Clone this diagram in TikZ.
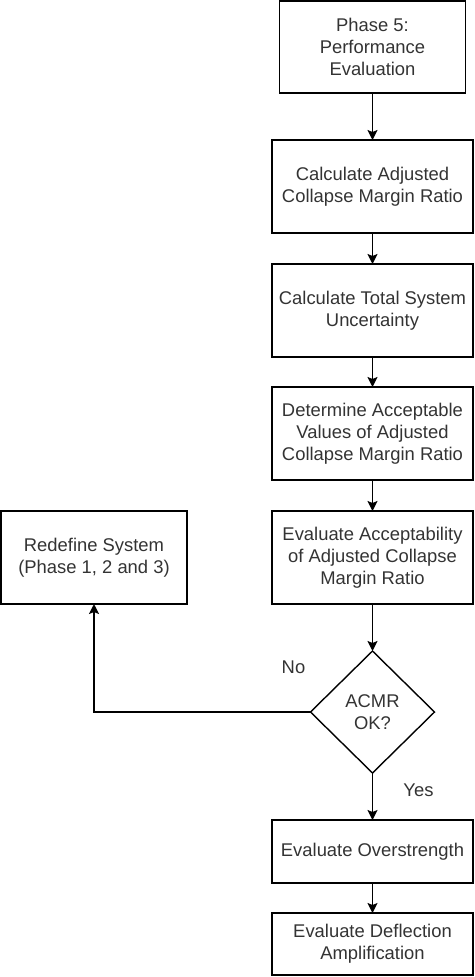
\documentclass[tikz,border=0pt]{standalone}
\usepackage{fontspec}
\setmainfont{Liberation Sans}
\usepackage{xcolor}
\usetikzlibrary{shapes.geometric, arrows.meta, positioning}
\definecolor{txtgray}{HTML}{333333}

\begin{document}
\begin{tikzpicture}[
    process/.style={rectangle, draw, minimum width=201pt, minimum height=93pt, align=center, inner sep=2pt, outer sep=0pt, line width=1.4pt, text=txtgray, font=\fontsize{18.4pt}{22pt}\selectfont},
    decision/.style={diamond, draw, aspect=1, inner sep=0pt, outer sep=0pt, minimum width=124pt, minimum height=122pt, align=center, line width=1.4pt, text=txtgray, font=\fontsize{18.4pt}{22pt}\selectfont},
    lbl/.style={text=txtgray, font=\fontsize{18.4pt}{22pt}\selectfont},
    arrow/.style={-{Stealth[length=10pt, width=10pt, inset=2pt]}, line width=1.4pt},
]
\useasboundingbox (0,0) rectangle (474pt,-977pt);

% Main column
\node[process, minimum width=186pt, minimum height=92pt] (phase) at (372.5pt,-47pt) {Phase 5:\\Performance\\Evaluation};
\node[process, below=47pt of phase] (acmr) {Calculate Adjusted\\Collapse Margin Ratio};
\node[process, below=31pt of acmr] (uncert) {Calculate Total System\\Uncertainty};
\node[process, below=30pt of uncert] (accept) {Determine Acceptable\\Values of Adjusted\\Collapse Margin Ratio};
\node[process, below=31pt of accept] (evalacc) {Evaluate Acceptability\\of Adjusted Collapse\\Margin Ratio};
\node[decision, below=47pt of evalacc] (check) {ACMR\\OK?};
\node[process, minimum height=63pt, below=47pt of check] (overstr) {Evaluate Overstrength};
\node[process, minimum height=62pt, below=30pt of overstr] (deflect) {Evaluate Deflection\\Amplification};

% Loop back
\node[process, minimum width=186pt, left=85pt of evalacc] (redefine) {Redefine System\\(Phase 1, 2 and 3)};

% Arrows
\draw[arrow] (phase) -- (acmr);
\draw[arrow] (acmr) -- (uncert);
\draw[arrow] (uncert) -- (accept);
\draw[arrow] (accept) -- (evalacc);
\draw[arrow] (evalacc) -- (check);
\draw[arrow] (check) -- (overstr);
\draw[arrow] (overstr) -- (deflect);
\draw[arrow] (check.west) -| (redefine.south);

% Decision labels
\node[lbl] (nolbl) at ([shift={(-17pt,45pt)}]check.west) {No};
\node[lbl] (yeslbl) at ([shift={(46pt,-17pt)}]check.south) {Yes};

\end{tikzpicture}
\end{document}
